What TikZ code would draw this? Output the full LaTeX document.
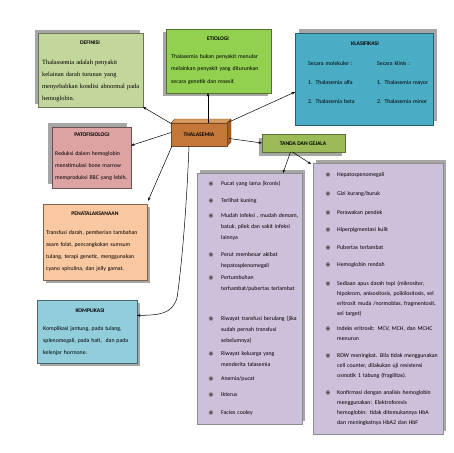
\documentclass[tikz,border=0pt]{standalone}
\usepackage{fontspec}
\setmainfont{Carlito}
\newfontfamily\serifb{Liberation Serif}
\newfontfamily\djv{DejaVu Sans}
\usetikzlibrary{shadows,arrows.meta}
\definecolor{cdef}{HTML}{C3D69B}
\definecolor{ceti}{HTML}{92D050}
\definecolor{ckla}{HTML}{4BACC6}
\definecolor{cpat}{HTML}{DDA3A3}
\definecolor{ctha}{HTML}{C5773A}
\definecolor{cthatop}{HTML}{DB9A5E}
\definecolor{cthaside}{HTML}{A65E25}
\definecolor{ctan}{HTML}{9BBB59}
\definecolor{cpen}{HTML}{FAC8A0}
\definecolor{ckom}{HTML}{92CDDC}
\definecolor{clst}{HTML}{CCC0DA}
\definecolor{cshd}{HTML}{A6A6A6}
\tikzset{
 box/.style={draw, line width=0.5pt, anchor=north west, inner sep=0pt, outer sep=0pt},
 sh/.style 2 args={drop shadow={shadow xshift=#1, shadow yshift=#2, fill=cshd, opacity=1}},
 ttl/.style={font=\fontsize{5.6}{6}\selectfont\bfseries, anchor=base, inner sep=0pt},
 body/.style={font=\fontsize{5.8}{12}\selectfont, anchor=base west, align=left, inner sep=0pt, text width=110pt},
 bul/.style={font=\djv\fontsize{5.6}{6}\selectfont, text=black!70, anchor=base, inner sep=0pt},
 lstL/.style={font=\fontsize{5.8}{11}\selectfont, anchor=base west, align=left, inner sep=0pt, text width=90pt},
 lstR/.style={font=\fontsize{5.8}{10}\selectfont, anchor=base west, align=left, inner sep=0pt, text width=110pt},
 conn/.style={-{Stealth[length=3.5pt,width=2.6pt]}, line width=0.5pt},
}
\begin{document}
\begin{tikzpicture}[x=1pt,y=-1pt]
\useasboundingbox (0,0) rectangle (453,453);
\fill[white] (0,0) rectangle (453,453);

% boxes
\node[box, sh={-3pt}{3pt}, fill=cdef, draw=cdef!55!black, minimum width=105pt, minimum height=74pt] (def) at (38,33) {};
\node[box, sh={-3pt}{-3pt}, fill=ceti, draw=ceti!55!black, minimum width=105pt, minimum height=64pt] (eti) at (166,29) {};
\node[box, sh={4pt}{4pt}, fill=ckla, draw=ckla!55!black, minimum width=138pt, minimum height=92pt] (kla) at (295,33) {};
\node[box, sh={-4pt}{4pt}, fill=cpat, draw=cpat!50!black, minimum width=79pt, minimum height=61pt] (pat) at (52,127) {};
\node[box, sh={-3pt}{-4pt}, fill=ctan, draw=ctan!60!black, minimum width=83pt, minimum height=18pt] (tan) at (262,134) {};
\node[box, sh={3pt}{-3pt}, fill=cpen, draw=cpen!50!black, minimum width=104pt, minimum height=76pt] (pen) at (43,204) {};
\node[box, sh={3pt}{-3pt}, fill=ckom, draw=ckom!50!black, minimum width=100pt, minimum height=63pt] (kom) at (37,300) {};
\node[box, sh={3pt}{3pt}, fill=clst, draw=black!45, minimum width=105pt, minimum height=251pt] (lsl) at (197,173) {};
\node[box, sh={3pt}{3pt}, fill=clst, draw=black!45, minimum width=130pt, minimum height=271pt] (lsr) at (313,163) {};

% THALASEMIA block
\fill[cthatop, draw=ctha!60!black, line width=0.4pt] (171,123) -- (175,119) -- (231,119) -- (227,123) -- cycle;
\fill[cthaside, draw=ctha!60!black, line width=0.4pt] (227,123) -- (231,119) -- (231,142) -- (227,146) -- cycle;
\node[box, fill=ctha, draw=ctha!60!black, line width=0.4pt, minimum width=56pt, minimum height=23pt] (tha) at (171,123) {};
\node[ttl] (that) at (199,136) {THALASEMIA};

% titles
\node[ttl] (deft) at (90,44) {DEFINISI};
\node[ttl] (etit) at (218,40) {ETIOLOGI};
\node[ttl] (klat) at (365,45) {KLASIFIKASI};
\node[ttl] (patt) at (92,136) {PATOFISIOLOGI};
\node[ttl] (tant) at (303,145) {TANDA DAN GEJALA};
\node[ttl] (pent) at (95,215) {PENATALAKSANAAN};
\node[ttl] (komt) at (90,312) {KOMPLIKASI};

% bodies
\node[body, font=\serifb\fontsize{6.4}{12}\selectfont] (defb) at (42,64) {Thalassemia adalah penyakit\\kelainan darah turunan yang\\menyebabkan kondisi abnormal pada\\hemoglobin.};
\node[body, font=\fontsize{5.8}{12.5}\selectfont] (etib) at (171,58) {Thalasemia bukan penyakit menular\\melainkan penyakit yang diturunkan\\secara genetik dan resesif.};
\node[body, text width=60pt] (kla1) at (308,65) {Secara molekuler :};
\node[body, text width=60pt] (kla2) at (377,65) {Secara klinis :};
\node[body, font=\fontsize{5.8}{19}\selectfont, text width=60pt] (kla3) at (308,84) {1. Thalasemia alfa\\2. Thalasemia beta};
\node[body, font=\fontsize{5.8}{19}\selectfont, text width=60pt] (kla4) at (377,84) {1. Thalasemia mayor\\2. Thalasemia minor};
\node[body] (patb) at (55,155) {Reduksi dalam hemoglobin\\menstimulasi bone marrow\\memproduksi RBC yang lebih.};
\node[body] (penb) at (46,234) {Transfusi darah, pemberian tambahan\\asam folat, pencangkokan sumsum\\tulang, terapi genetic, menggunakan\\cyano spirulina, dan jelly gamat.};
\node[body] (komb) at (43,330) {Komplikasi jantung, pada tulang,\\splenomegali, pada hati,~ dan pada\\kelenjar hormone.};

% left list
\foreach \i/\y/\t in {
 1/185/{Pucat yang lama (kronis)},
 2/202/{Terlihat kuning},
 3/217/{Mudah infeksi , mudah demam,\\batuk, pilek dan sakit infeksi\\lainnya},
 4/256/{Perut membesar akibat\\hepatosplenomegali},
 5/279/{Pertumbuhan\\terhambat/pubertas terlambat},
 6/320/{Riwayat transfusi berulang (jika\\sudah pernah transfusi\\sebelumnya)},
 7/355/{Riwayat keluarga yang\\menderita talasemia},
 8/380/{Anemia/pucat},
 9/396/{Ikterus},
 10/414/{Facies cooley}} {
 \node[bul] (lb\i) at (211,\y) {◉};
 \node[lstL] (lt\i) at (221,\y) {\t};
}

% right list
\foreach \i/\y/\t in {
 1/176/{Hepatospenomegali},
 2/195/{Gizi kurang/buruk},
 3/214/{Perawakan pendek},
 4/231/{Hiperpigmentasi kulit},
 5/249/{Pubertas terlambat},
 6/266/{Hemoglobin rendah},
 7/285/{Sediaan apus darah tepi (mikrositer,\\hipokrom, anisositosis, poikilositosis, sel\\eritrosit muda /normoblas, fragmentosit,\\sel target)},
 8/330/{Indeks eritrosit: MCV, MCH, dan MCHC\\menurun},
 9/357/{RDW meningkat. Bila tidak menggunakan\\cell counter, dilakukan uji resistensi\\osmotik 1 tabung (fragilitas).},
 10/394/{Konfirmasi dengan analisis hemoglobin\\menggunakan: Elektroforesis\\hemoglobin: tidak ditemukannya HbA\\dan meningkatnya HbA2 dan HbF}} {
 \node[bul] (rb\i) at (328,\y) {◉};
 \node[lstR] (rt\i) at (337,\y) {\t};
}

% connectors
\draw[conn] ([xshift=1pt,yshift=-1pt]tha.north west) -- (def.south east);
\draw[conn] ([xshift=9pt]tha.north) -- ([xshift=9pt]tha.north |- eti.south);
\draw[conn] ([xshift=2pt,yshift=1pt]tha.north east) -- ([yshift=-13pt]kla.west);
\draw[conn] ([yshift=2pt]tha.west) -- ([yshift=12pt]pat.east);
\draw[conn] ([xshift=2pt,yshift=-4pt]tha.east) -- (tan.west);
\draw[conn] ([xshift=1pt]tha.south west) -- ([xshift=1pt,yshift=3pt]pen.north east);
\coordinate (kbend) at (177,298);
\draw[conn] ([xshift=-10pt]tha.south) .. controls (186,220) and (181,270) .. (kbend) .. controls (172,314) and (160,315) .. ([yshift=16pt]kom.east);
\draw[conn] ([xshift=-13pt]tan.south) -- ([xshift=-19pt]lsl.north east);
\draw[conn] ([xshift=-11pt]tan.south) -- ([xshift=-2pt,yshift=-1pt]lsr.north west);
\end{tikzpicture}
\end{document}
